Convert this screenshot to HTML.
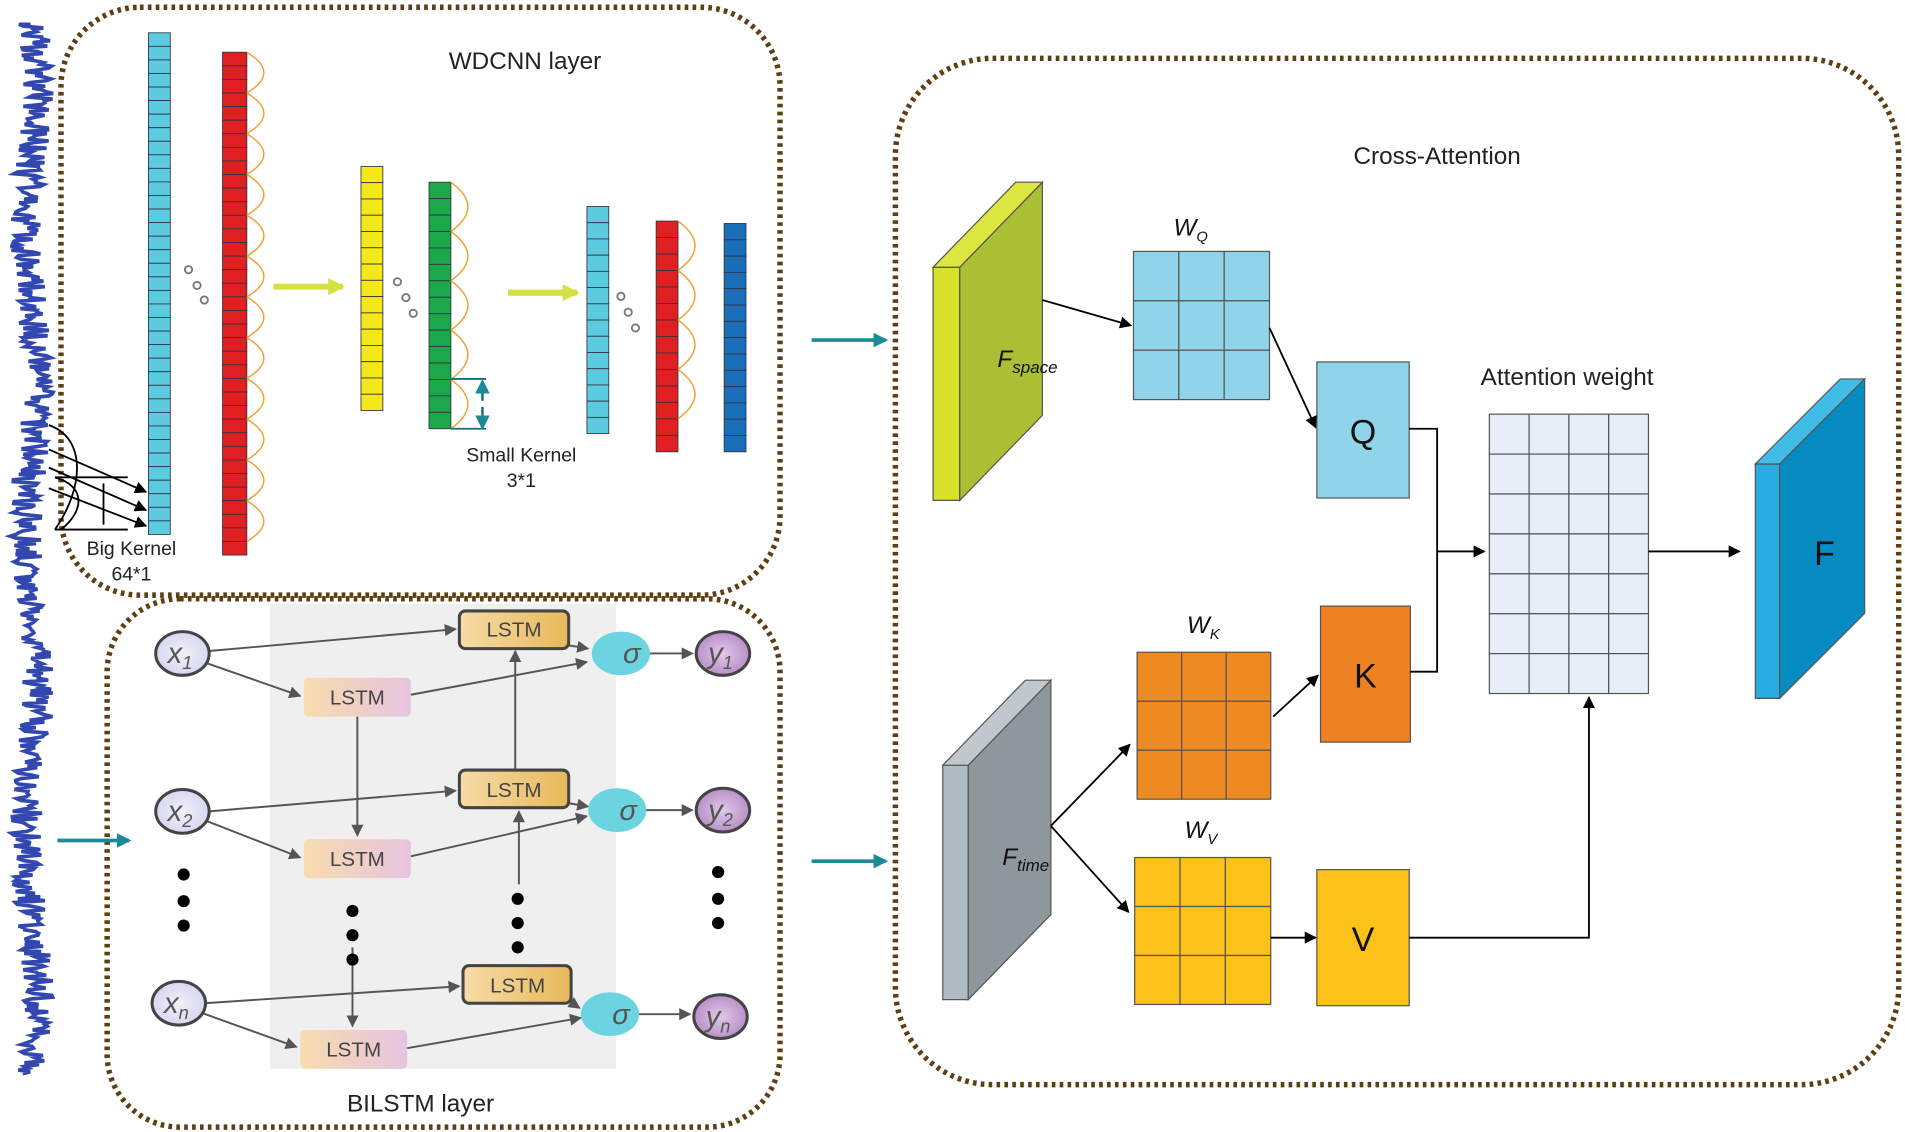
<!DOCTYPE html>
<html><head><meta charset="utf-8"><style>
html,body{margin:0;padding:0;background:#fff;width:1905px;height:1132px;overflow:hidden}
svg{display:block}
text{font-family:"Liberation Sans",sans-serif}
.m{font-family:"Liberation Serif",serif;font-style:italic}
</style></head><body>
<svg id="s" width="1905" height="1132" viewBox="0 0 1568 932" xmlns="http://www.w3.org/2000/svg">
<defs>
<marker id="ab" markerWidth="10" markerHeight="10" refX="9" refY="5" orient="auto" markerUnits="userSpaceOnUse"><path d="M0,0 L10,5 L0,10 z" fill="#000"/></marker>
<marker id="ag" markerWidth="10" markerHeight="10" refX="9" refY="5" orient="auto" markerUnits="userSpaceOnUse"><path d="M0,0 L10,5 L0,10 z" fill="#555"/></marker>
<marker id="at" markerWidth="12" markerHeight="12" refX="10" refY="6" orient="auto" markerUnits="userSpaceOnUse"><path d="M0,0 L12,6 L0,12 z" fill="#1a8a96"/></marker>
<marker id="ay" markerWidth="14" markerHeight="14" refX="12" refY="7" orient="auto" markerUnits="userSpaceOnUse"><path d="M0,0 L14,7 L0,14 z" fill="#d6e040"/></marker>
<linearGradient id="lo" x1="0" x2="1"><stop offset="0" stop-color="#f6dca8"/><stop offset="1" stop-color="#e8b85a"/></linearGradient>
<linearGradient id="lp" x1="0" x2="1"><stop offset="0" stop-color="#f8dcae"/><stop offset="1" stop-color="#e6c4e0"/></linearGradient>
<radialGradient id="xc"><stop offset="0" stop-color="#f4f0fa"/><stop offset="1" stop-color="#d6d8f0"/></radialGradient>
<radialGradient id="yc"><stop offset="0" stop-color="#e0c8e8"/><stop offset="1" stop-color="#b890c8"/></radialGradient>
</defs>
<g fill="none" stroke="#5e3f14" stroke-width="4.5" stroke-dasharray="3,3.5">
<rect x="50" y="6" width="592" height="484" rx="65"/>
<rect x="88" y="493" width="554" height="435" rx="60"/>
<rect x="737" y="48" width="826" height="845" rx="80"/>
</g>
<path id="sig" fill="none" stroke="#3347b0" stroke-width="3"/>
<g id="cols"></g>
<text x="432" y="57" font-size="20" text-anchor="middle" fill="#222">WDCNN layer</text>
<text x="429" y="380" font-size="16" text-anchor="middle" fill="#222">Small Kernel</text>
<text x="429" y="401" font-size="16" text-anchor="middle" fill="#222">3*1</text>
<text x="108" y="457" font-size="16" text-anchor="middle" fill="#222">Big Kernel</text>
<text x="108" y="478" font-size="16" text-anchor="middle" fill="#222">64*1</text>
<g fill="none" stroke="#777" stroke-width="1.5"><circle cx="155" cy="222" r="3"/><circle cx="162" cy="235" r="3"/><circle cx="168" cy="247" r="3"/>
<circle cx="327" cy="232" r="3"/><circle cx="334" cy="245" r="3"/><circle cx="340" cy="258" r="3"/>
<circle cx="511" cy="244" r="3"/><circle cx="517" cy="257" r="3"/><circle cx="523" cy="270" r="3"/></g>
<line x1="225" y1="236" x2="282" y2="236" stroke="#d6e040" stroke-width="5" marker-end="url(#ay)"/>
<line x1="418" y1="241" x2="475" y2="241" stroke="#d6e040" stroke-width="5" marker-end="url(#ay)"/>
<g stroke="#0d6e78" stroke-width="1.5" fill="none"><line x1="371" y1="312" x2="400" y2="312"/><line x1="371" y1="353" x2="400" y2="353"/></g>
<line x1="397" y1="330" x2="397" y2="314" stroke="#0d6e78" stroke-width="2" marker-end="url(#at)"/>
<line x1="397" y1="335" x2="397" y2="352" stroke="#0d6e78" stroke-width="2" marker-end="url(#at)"/>
<g stroke="#000" stroke-width="1.5" fill="none">
<line x1="40" y1="370" x2="120" y2="405" marker-end="url(#ab)"/>
<line x1="40" y1="385" x2="120" y2="420" marker-end="url(#ab)"/>
<line x1="40" y1="402" x2="120" y2="433" marker-end="url(#ab)"/>
<line x1="45" y1="393" x2="105" y2="393"/><line x1="45" y1="436" x2="105" y2="436"/>
<line x1="85" y1="398" x2="85" y2="432"/>
<path d="M40,350 C70,360 70,400 45,436"/><path d="M45,393 C70,400 70,420 50,436"/>
</g>
<rect x="222" y="497" width="285" height="383" fill="#efefef"/>
<g stroke="#555" stroke-width="1.6" fill="none" marker-end="url(#ag)">
<line x1="172" y1="536" x2="375" y2="518"/><line x1="170" y1="546" x2="247" y2="573"/>
<line x1="338" y1="572" x2="483" y2="545"/><line x1="460" y1="530" x2="484" y2="534"/>
<line x1="294" y1="590" x2="294" y2="688"/><line x1="424" y1="634" x2="424" y2="536"/>
<line x1="172" y1="668" x2="375" y2="651"/><line x1="170" y1="676" x2="247" y2="706"/>
<line x1="338" y1="705" x2="483" y2="672"/><line x1="460" y1="660" x2="484" y2="664"/>
<line x1="427" y1="728" x2="427" y2="668"/><line x1="290" y1="780" x2="290" y2="845"/>
<line x1="168" y1="826" x2="378" y2="812"/><line x1="166" y1="834" x2="244" y2="862"/>
<line x1="335" y1="863" x2="478" y2="838"/><line x1="465" y1="822" x2="477" y2="830"/>
<line x1="533" y1="538" x2="570" y2="538"/><line x1="530" y1="667" x2="570" y2="667"/><line x1="525" y1="835" x2="568" y2="835"/>
</g>
<g stroke="#444" stroke-width="2.5">
<rect x="378" y="503" width="90" height="31" rx="5" fill="url(#lo)"/>
<rect x="378" y="634" width="90" height="31" rx="5" fill="url(#lo)"/>
<rect x="381" y="795" width="89" height="31" rx="5" fill="url(#lo)"/>
</g>
<g fill="url(#lp)"><rect x="250" y="558" width="88" height="32" rx="4"/><rect x="250" y="691" width="88" height="32" rx="4"/><rect x="247" y="848" width="88" height="32" rx="4"/></g>
<g font-size="17" fill="#444" text-anchor="middle">
<text x="423" y="524">LSTM</text><text x="423" y="656">LSTM</text><text x="426" y="817">LSTM</text>
<text x="294" y="580">LSTM</text><text x="294" y="713">LSTM</text><text x="291" y="870">LSTM</text></g>
<g stroke="#444" stroke-width="2.5" fill="url(#xc)"><ellipse cx="150" cy="538" rx="22" ry="18"/><ellipse cx="150" cy="668" rx="22" ry="18"/><ellipse cx="147" cy="826" rx="22" ry="18"/></g>
<g stroke="#444" stroke-width="2.5" fill="url(#yc)"><ellipse cx="595" cy="538" rx="22" ry="18"/><ellipse cx="595" cy="667" rx="22" ry="18"/><ellipse cx="593" cy="837" rx="22" ry="18"/></g>
<g fill="#6cd4e0"><ellipse cx="511" cy="538" rx="24" ry="18"/><ellipse cx="508" cy="667" rx="24" ry="18"/><ellipse cx="502" cy="835" rx="24" ry="18"/></g>
<g class="m" font-size="24" fill="#555" text-anchor="middle">
<text x="148" y="546">x<tspan font-size="15" dy="5">1</tspan></text>
<text x="148" y="676">x<tspan font-size="15" dy="5">2</tspan></text>
<text x="145" y="834">x<tspan font-size="15" dy="5">n</tspan></text>
<text x="593" y="546">y<tspan font-size="15" dy="5">1</tspan></text>
<text x="593" y="675">y<tspan font-size="15" dy="5">2</tspan></text>
<text x="591" y="845">y<tspan font-size="15" dy="5">n</tspan></text>
<text x="520" y="546">σ</text><text x="517" y="675">σ</text><text x="511" y="843">σ</text></g>
<g fill="#000"><circle cx="151" cy="720" r="5"/><circle cx="151" cy="742" r="5"/><circle cx="151" cy="762" r="5"/>
<circle cx="290" cy="750" r="5"/><circle cx="290" cy="770" r="5"/><circle cx="290" cy="790" r="5"/>
<circle cx="426" cy="740" r="5"/><circle cx="426" cy="760" r="5"/><circle cx="426" cy="780" r="5"/>
<circle cx="591" cy="718" r="5"/><circle cx="591" cy="740" r="5"/><circle cx="591" cy="760" r="5"/></g>
<text x="346" y="915" font-size="20" text-anchor="middle" fill="#222">BILSTM layer</text>
<g stroke="#1a8a96" stroke-width="3" marker-end="url(#at)"><line x1="47" y1="692" x2="106" y2="692"/><line x1="668" y1="280" x2="729" y2="280"/><line x1="668" y1="709" x2="729" y2="709"/></g>
<text x="1183" y="135" font-size="20" text-anchor="middle" fill="#222">Cross-Attention</text>
<g stroke="#555" stroke-width="1">
<polygon points="768,220 790,220 790,412 768,412" fill="#d8e22a"/><polygon points="790,220 858,150 858,342 790,412" fill="#aabf34"/><polygon points="768,220 836,150 858,150 790,220" fill="#dde640"/>
<polygon points="776,630 797,630 797,823 776,823" fill="#b0bcc4"/><polygon points="797,630 865,560 865,753 797,823" fill="#8e979c"/><polygon points="776,630 844,560 865,560 797,630" fill="#c0c8ce"/>
<polygon points="1445,382 1465,382 1465,575 1445,575" fill="#29ace2"/><polygon points="1465,382 1535,312 1535,505 1465,575" fill="#068cc0"/><polygon points="1445,382 1515,312 1535,312 1465,382" fill="#40bce8"/>
</g>
<g class="m" font-size="20" fill="#111"><text x="821" y="302">F<tspan font-size="14" dy="5">space</tspan></text><text x="825" y="712">F<tspan font-size="14" dy="5">time</tspan></text>
<text x="966" y="194">W<tspan font-size="12" dy="5">Q</tspan></text><text x="977" y="521">W<tspan font-size="12" dy="5">K</tspan></text><text x="975" y="690">W<tspan font-size="12" dy="5">V</tspan></text></g>
<g id="grids" stroke="#555" stroke-width="1"></g>
<g stroke="#555" stroke-width="1"><rect x="1084" y="298" width="76" height="112" fill="#8fd4e8"/><rect x="1087" y="499" width="74" height="112" fill="#ee8122"/><rect x="1084" y="716" width="76" height="112" fill="#fcc21a"/></g>
<g font-size="28" text-anchor="middle" fill="#111"><text x="1122" y="365">Q</text><text x="1124" y="566">K</text><text x="1122" y="783">V</text><text x="1502" y="465">F</text></g>
<text x="1290" y="317" font-size="20" text-anchor="middle" fill="#222">Attention weight</text>
<g stroke="#000" stroke-width="1.5" fill="none">
<line x1="858" y1="247" x2="931" y2="268" marker-end="url(#ab)"/>
<line x1="1045" y1="270" x2="1083" y2="352" marker-end="url(#ab)"/>
<polyline points="1160,353 1183,353 1183,553 1161,553"/>
<line x1="1183" y1="454" x2="1222" y2="454" marker-end="url(#ab)"/>
<line x1="1357" y1="454" x2="1432" y2="454" marker-end="url(#ab)"/>
<line x1="865" y1="680" x2="930" y2="613" marker-end="url(#ab)"/>
<line x1="865" y1="680" x2="929" y2="751" marker-end="url(#ab)"/>
<line x1="1048" y1="590" x2="1085" y2="556" marker-end="url(#ab)"/>
<line x1="1046" y1="772" x2="1083" y2="772" marker-end="url(#ab)"/>
<polyline points="1160,772 1308,772 1308,574" marker-end="url(#ab)"/>
</g>
</svg>
<script>
var NS="http://www.w3.org/2000/svg";
function el(p,t,a){var e=document.createElementNS(NS,t);for(var k in a)e.setAttribute(k,a[k]);p.appendChild(e);return e;}
var g=document.getElementById('grids');
function grid(x,y,w,h,c,r,f){for(var i=0;i<r;i++)for(var j=0;j<c;j++)el(g,'rect',{x:x+j*w/c,y:y+i*h/r,width:w/c,height:h/r,fill:f});}
grid(933,207,112,122,3,3,'#8fd4e8');grid(936,537,110,121,3,3,'#ee8a22');grid(934,706,112,121,3,3,'#fcc21a');grid(1226,341,131,230,4,7,'#e8eef8');
var cg=document.getElementById('cols');
function col(x,y1,y2,w,f,n,arcs){var h=(y2-y1)/n;for(var i=0;i<n;i++)el(cg,'rect',{x:x,y:y1+i*h,width:w,height:h,fill:f,stroke:'#334','stroke-width':0.7});
 if(arcs){var d='';var st=arcs;for(var i=0;i+st<=n;i+=st>2?3:1){var a=y1+i*h,b=a+st*h;d+='M'+(x+w)+','+a+' Q'+(x+w+28)+','+((a+b)/2)+' '+(x+w)+','+b+' ';}
 el(cg,'path',{d:d,fill:'none',stroke:'#f0a030','stroke-width':1.2});}}
col(122,27,440,18,'#5ccbe0',37);col(183,43,457,20,'#e02020',37,3);
col(297,137,338,18,'#f5e81a',15);col(353,150,353,18,'#1aa84a',15,3);
col(483,170,357,18,'#5ccbe0',14);col(540,182,372,18,'#e02020',14,3);col(596,184,372,18,'#1a6eb8',14);
var s=1,d='M25,20';function rnd(){s=(s*16807)%2147483647;return s/2147483647;}
var x=25;for(var y=20;y<885;y+=1.5){x=26+Math.sin(y/40)*5+(rnd()-0.5)*26;d+=' L'+x.toFixed(1)+','+y;}
document.getElementById('sig').setAttribute('d',d);
</script>
</body></html>
